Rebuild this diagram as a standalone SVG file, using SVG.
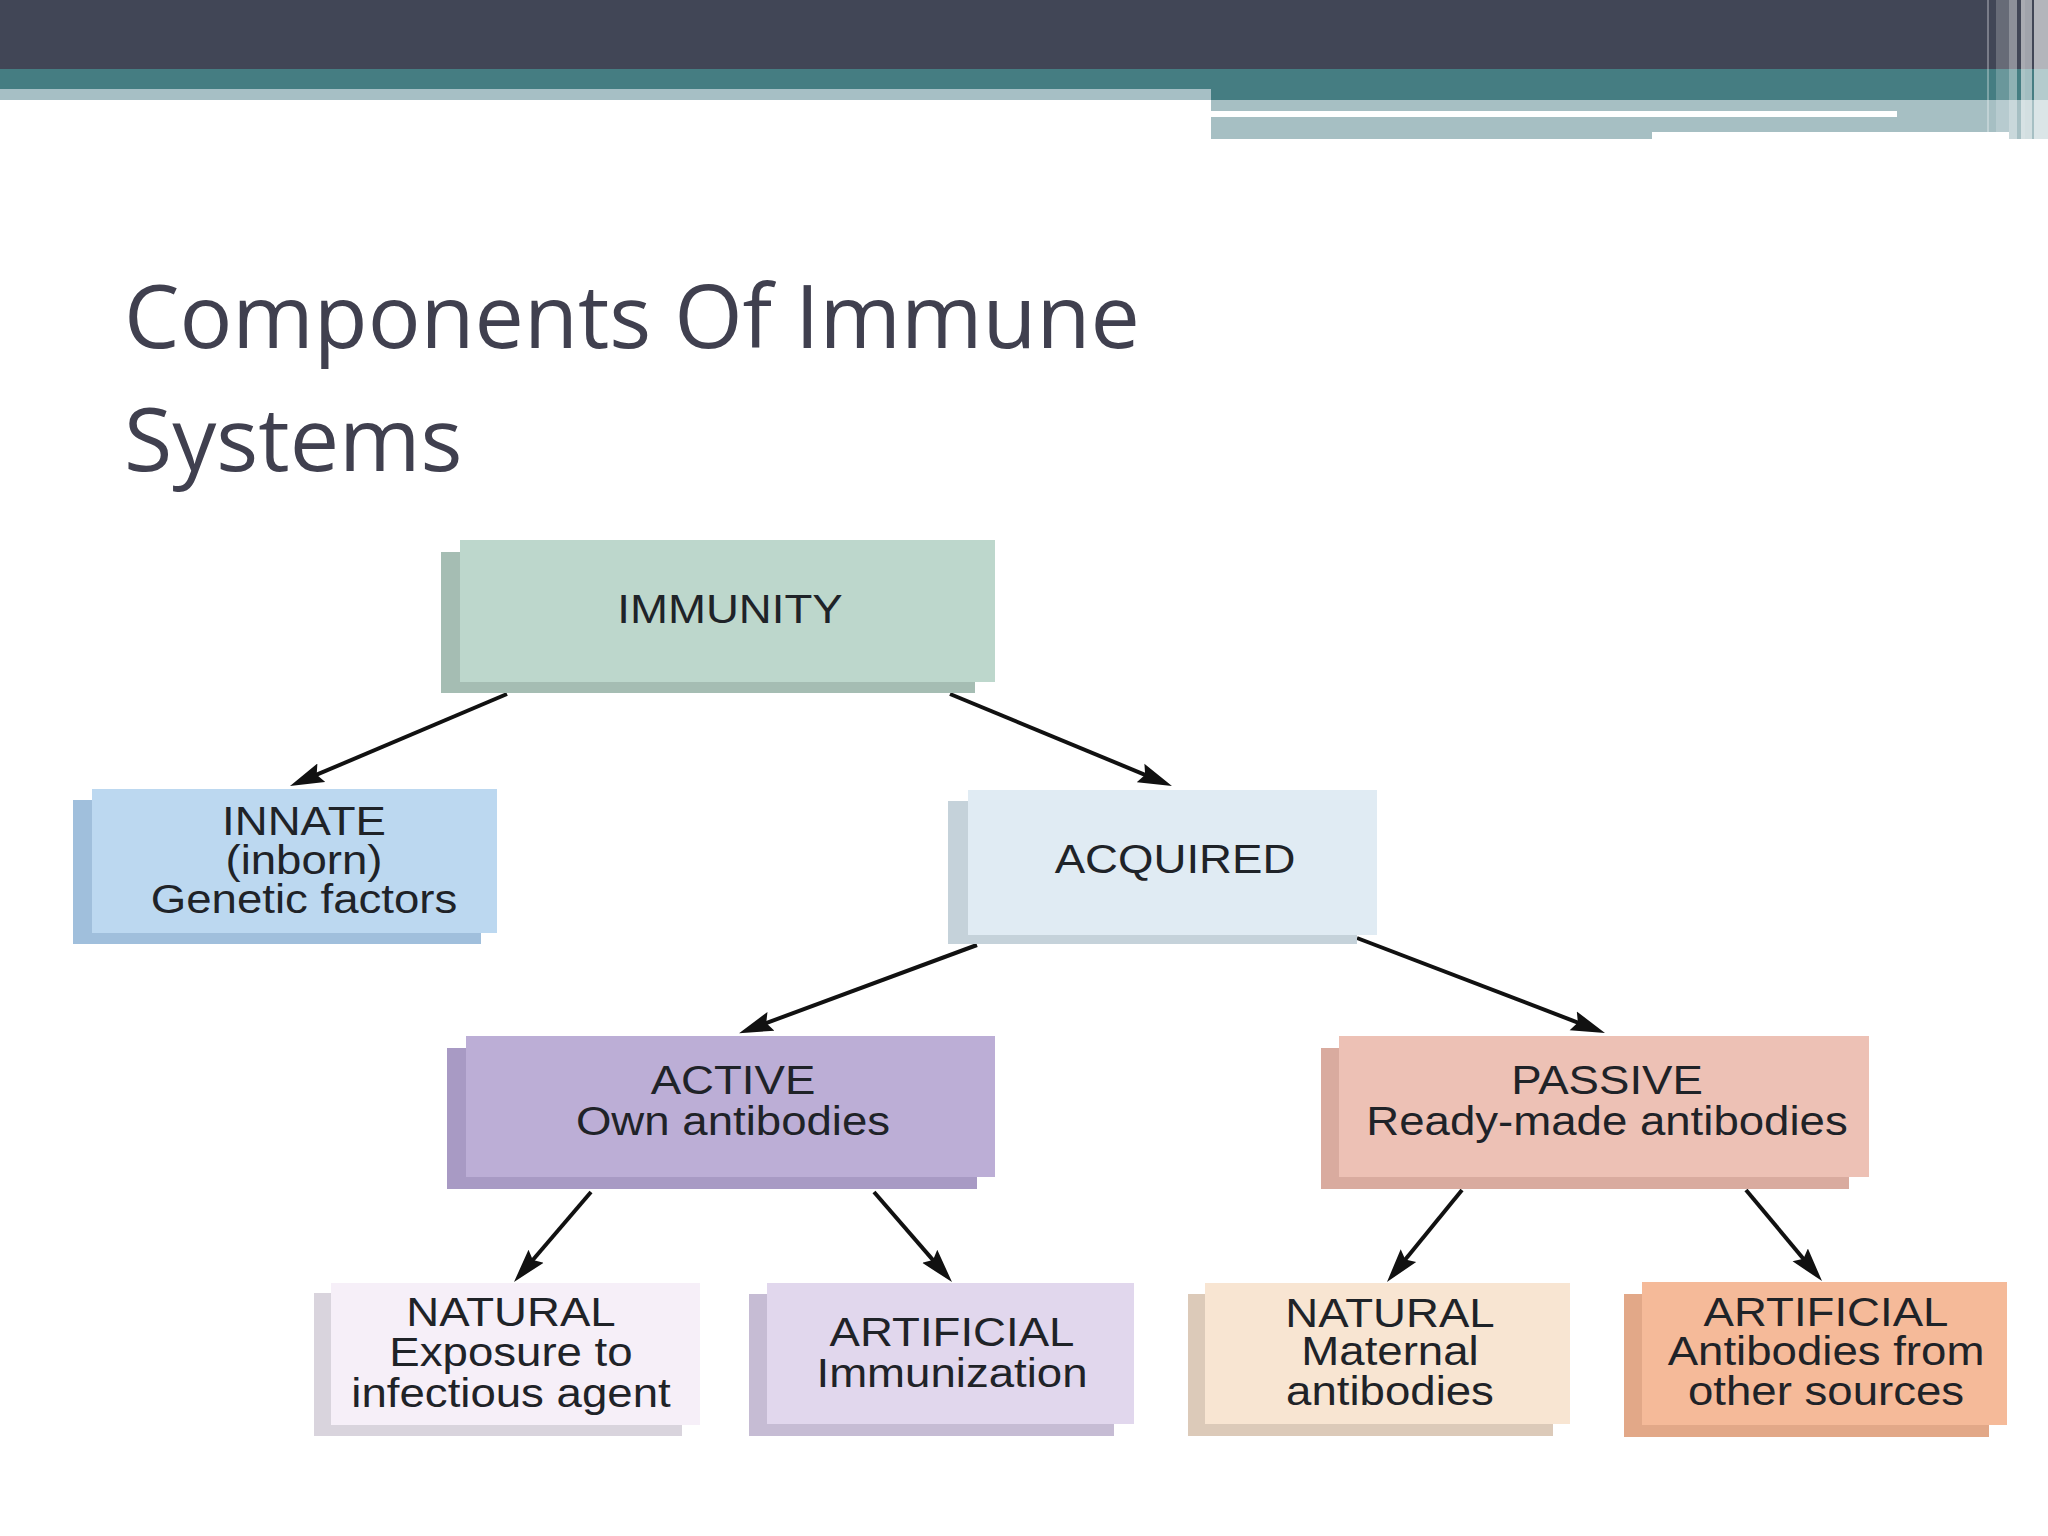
<svg xmlns="http://www.w3.org/2000/svg" width="2048" height="1536" viewBox="0 0 2048 1536">
<style>
.t{font-family:"Liberation Sans",Arial,sans-serif;font-size:40px;fill:#1f2328;text-anchor:middle}
.title{font-family:"Open Sans","Noto Sans",sans-serif;font-size:88px;fill:#40404f}
.cn{stroke:#111;stroke-width:4;fill:none;marker-end:url(#ah)}
</style>
<defs>
<marker id="ah" markerUnits="userSpaceOnUse" markerWidth="36" markerHeight="22" viewBox="0 0 36 22" refX="14" refY="11" orient="auto">
<path d="M0,1 L34,11 L0,21 L5,11 Z" fill="#111"/>
</marker>
</defs>
<rect width="2048" height="1536" fill="#fff"/>
<g id="header">
<rect x="0" y="0" width="2048" height="69" fill="#414656"/>
<rect x="0" y="69" width="2048" height="31" fill="#457d82"/>
<rect x="0" y="89" width="1211" height="11" fill="#a6bfc5"/>
<rect x="1211" y="100" width="837" height="39" fill="#a6bfc3"/>
<rect x="1211" y="111" width="686" height="6" fill="#fff"/>
<rect x="1652" y="132" width="357" height="7" fill="#fff"/>
<rect x="1987" y="0" width="2" height="132" fill="#fff" opacity="0.3"/>
<rect x="1996" y="0" width="13" height="132" fill="#fff" opacity="0.2"/>
<rect x="2009" y="0" width="8" height="139" fill="#fff" opacity="0.4"/>
<rect x="2021" y="0" width="4" height="139" fill="#fff" opacity="0.55"/>
<rect x="2025" y="0" width="7" height="139" fill="#fff" opacity="0.5"/>
<rect x="2034" y="0" width="14" height="139" fill="#fff" opacity="0.6"/>
</g>
<g id="title">
<text class="title" x="124" y="348">Components Of Immune</text>
<text class="title" x="124" y="471">Systems</text>
</g>
<g id="connectors">
<line class="cn" x1="507" y1="694" x2="308.4" y2="778.2"/>
<line class="cn" x1="950" y1="694" x2="1153.5" y2="778.3"/>
<line class="cn" x1="977" y1="945" x2="757.8" y2="1026.2"/>
<line class="cn" x1="1357" y1="938" x2="1586.3" y2="1025.8"/>
<line class="cn" x1="591" y1="1192" x2="527" y2="1266.8"/>
<line class="cn" x1="874" y1="1192" x2="938.9" y2="1266.9"/>
<line class="cn" x1="1462" y1="1190" x2="1399.6" y2="1266.5"/>
<line class="cn" x1="1746" y1="1190" x2="1809.2" y2="1265.7"/>
</g>
<g id="immunity">
<rect x="441" y="552" width="534" height="141" fill="#a5bdb3"/>
<rect x="460" y="540" width="535" height="142" fill="#bdd7cc"/>
<g transform="translate(730,0) scale(1.14,1)"><text class="t" x="0" y="623">IMMUNITY</text></g>
</g>
<g id="innate">
<rect x="73" y="800" width="408" height="144" fill="#a0bfdc"/>
<rect x="92" y="789" width="405" height="144" fill="#bcd8f0"/>
<g transform="translate(304,0) scale(1.14,1)">
<text class="t" x="0" y="835">INNATE</text>
<text class="t" x="0" y="874">(inborn)</text>
<text class="t" x="0" y="913">Genetic factors</text>
</g>
</g>
<g id="acquired">
<rect x="948" y="801" width="409" height="143" fill="#c5d2da"/>
<rect x="968" y="790" width="409" height="145" fill="#e0ebf3"/>
<g transform="translate(1175,0) scale(1.14,1)"><text class="t" x="0" y="873">ACQUIRED</text></g>
</g>
<g id="active">
<rect x="447" y="1048" width="530" height="141" fill="#a89ac4"/>
<rect x="466" y="1036" width="529" height="141" fill="#bcaed6"/>
<g transform="translate(733,0) scale(1.14,1)">
<text class="t" x="0" y="1094">ACTIVE</text>
<text class="t" x="0" y="1135">Own antibodies</text>
</g>
</g>
<g id="passive">
<rect x="1321" y="1048" width="528" height="141" fill="#d9ab9f"/>
<rect x="1339" y="1036" width="530" height="141" fill="#edc1b5"/>
<g transform="translate(1607,0) scale(1.14,1)">
<text class="t" x="0" y="1094">PASSIVE</text>
<text class="t" x="0" y="1135">Ready-made antibodies</text>
</g>
</g>
<g id="natural-active">
<rect x="314" y="1293" width="368" height="143" fill="#d9d4dd"/>
<rect x="331" y="1283" width="369" height="142" fill="#f6eff8"/>
<g transform="translate(511,0) scale(1.14,1)">
<text class="t" x="0" y="1326">NATURAL</text>
<text class="t" x="0" y="1366">Exposure to</text>
<text class="t" x="0" y="1407">infectious agent</text>
</g>
</g>
<g id="artificial-active">
<rect x="749" y="1294" width="365" height="142" fill="#c6bcd4"/>
<rect x="767" y="1283" width="367" height="141" fill="#e1d7ed"/>
<g transform="translate(952,0) scale(1.14,1)">
<text class="t" x="0" y="1346">ARTIFICIAL</text>
<text class="t" x="0" y="1387">Immunization</text>
</g>
</g>
<g id="natural-passive">
<rect x="1188" y="1294" width="365" height="142" fill="#dccab9"/>
<rect x="1205" y="1283" width="365" height="141" fill="#f8e5d2"/>
<g transform="translate(1390,0) scale(1.14,1)">
<text class="t" x="0" y="1327">NATURAL</text>
<text class="t" x="0" y="1365">Maternal</text>
<text class="t" x="0" y="1405">antibodies</text>
</g>
</g>
<g id="artificial-passive">
<rect x="1624" y="1294" width="365" height="143" fill="#e2a888"/>
<rect x="1642" y="1282" width="365" height="143" fill="#f5ba99"/>
<g transform="translate(1826,0) scale(1.14,1)">
<text class="t" x="0" y="1326">ARTIFICIAL</text>
<text class="t" x="0" y="1365">Antibodies from</text>
<text class="t" x="0" y="1405">other sources</text>
</g>
</g>
</svg>
